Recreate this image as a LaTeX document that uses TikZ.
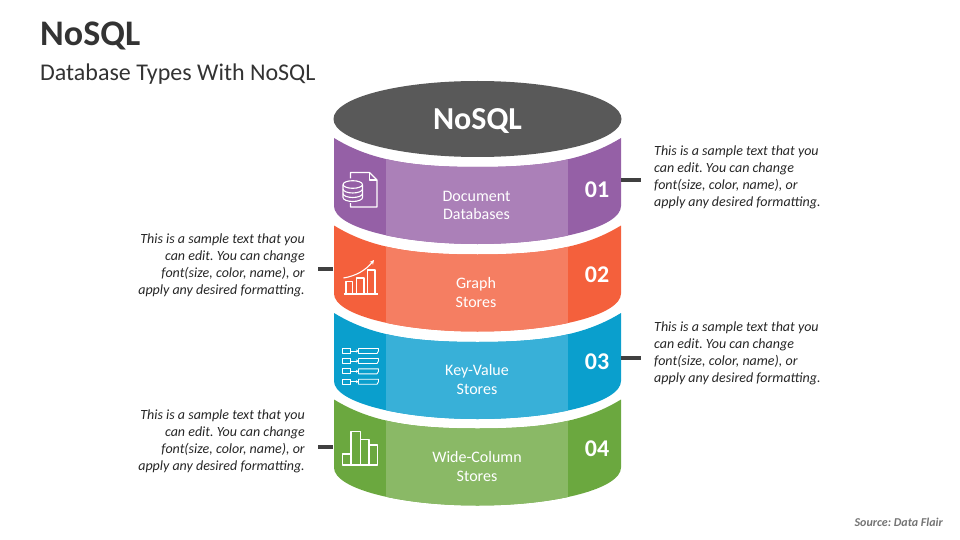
\documentclass[tikz,border=0pt]{standalone}
\usepackage{fontspec}
\setmainfont{Carlito}
\usetikzlibrary{arrows.meta}
\definecolor{capgray}{RGB}{89, 89, 89}
\definecolor{leadgray}{RGB}{64, 64, 64}
\definecolor{purpledark}{RGB}{149, 96, 166}
\definecolor{purplelight}{RGB}{171, 128, 184}
\definecolor{orangedark}{RGB}{244, 96, 60}
\definecolor{orangelight}{RGB}{245, 126, 98}
\definecolor{bluedark}{RGB}{10, 159, 205}
\definecolor{bluelight}{RGB}{56, 176, 216}
\definecolor{greendark}{RGB}{107, 168, 63}
\definecolor{greenlight}{RGB}{138, 185, 102}
\tikzset{
  band label/.style={text=white, align=center, font=\fontsize{16}{18.7}\selectfont},
  band number/.style={text=white, font=\bfseries\fontsize{24}{24}\selectfont},
  note right/.style={anchor=west, align=left, inner sep=0pt, text=black!85, font=\frenchspacing\itshape\fontsize{14}{17}\selectfont},
  note left/.style={anchor=east, align=right, inner sep=0pt, text=black!85, font=\frenchspacing\itshape\fontsize{14}{17}\selectfont},
  lead/.style={draw=leadgray, line width=4.5pt},
  icon/.style={draw=white, line width=1.1pt, line join=round}
}
% one slice of the cylinder: #1 is the offset, #2 and #3 the colours
\newcommand{\bandpath}[1]{(334, 138+#1) -- (334, 206+#1)
  arc[start angle=180, end angle=360, x radius=143.5pt, y radius=38pt]
  -- (621, 138+#1) .. controls (585, 160+#1) and (545, 167+#1) .. (477.5, 167+#1)
  .. controls (410, 167+#1) and (370, 160+#1) .. (334, 138+#1) -- cycle}
\newcommand{\dbband}[3]{
  \fill[#2] \bandpath{#1};
  \begin{scope}
    \clip \bandpath{#1};
    \fill[#3] (386, 130+#1) rectangle (568, 250+#1);
  \end{scope}
}
\begin{document}
\begin{tikzpicture}[x=1pt, y=-1pt]
  \useasboundingbox (0, 0) rectangle (960, 540);

  \node[anchor=west, inner sep=0pt, text=black!80, font=\bfseries\fontsize{36}{36}\selectfont] (title) at (40, 36) {NoSQL};
  \node[anchor=west, inner sep=0pt, text=black!80, font=\fontsize{24}{24}\selectfont] (subtitle) at (40, 74) {Database Types With NoSQL};

  \dbband{0}{purpledark}{purplelight}
  \dbband{87.5}{orangedark}{orangelight}
  \dbband{175}{bluedark}{bluelight}
  \dbband{261.5}{greendark}{greenlight}

  \fill[capgray] (477.5, 119) ellipse [x radius=144pt, y radius=38pt];
  \node[text=white, font=\bfseries\fontsize{32}{32}\selectfont] (cap) at (477.5, 121) {NoSQL};

  \node[band label] (label1) at (476.5, 205.5) {Document\\Databases};
  \node[band label] (label2) at (476, 292.5) {Graph\\Stores};
  \node[band label] (label3) at (477, 379.5) {Key-Value\\Stores};
  \node[band label] (label4) at (477, 466.5) {Wide-Column\\Stores};

  \node[band number] (num1) at (597, 190) {01};
  \node[band number] (num2) at (597, 275) {02};
  \node[band number] (num3) at (597, 362) {03};
  \node[band number] (num4) at (597, 449) {04};

  \node[note right] (note1) at (654, 177) {This is a sample text that you\\can edit. You can change\\font(size, color, name), or\\apply any desired formatting.};
  \node[note left] (note2) at (305, 265) {This is a sample text that you\\can edit. You can change\\font(size, color, name), or\\apply any desired formatting.};
  \node[note right] (note3) at (654, 353) {This is a sample text that you\\can edit. You can change\\font(size, color, name), or\\apply any desired formatting.};
  \node[note left] (note4) at (305, 441) {This is a sample text that you\\can edit. You can change\\font(size, color, name), or\\apply any desired formatting.};

  \coordinate (rim1) at (621, 180);
  \coordinate (tip1) at (641, 180);
  \coordinate (rim2) at (333, 269);
  \coordinate (tip2) at (318, 269);
  \coordinate (rim3) at (621, 358);
  \coordinate (tip3) at (641, 358);
  \coordinate (rim4) at (333, 447);
  \coordinate (tip4) at (318, 447);
  \draw[lead] (rim1) -- (tip1);
  \draw[lead] (rim2) -- (tip2);
  \draw[lead] (rim3) -- (tip3);
  \draw[lead] (rim4) -- (tip4);

  % document icon
  \draw[icon] (350.5, 178.5) -- (350.5, 172.5) -- (369.5, 172.5) -- (377, 180) -- (377, 207) -- (350.5, 207) -- (350.5, 203);
  \draw[icon] (369.5, 172.5) -- (369.5, 180) -- (377, 180);
  \fill[purpledark] (343, 184) rectangle (362.5, 198);
  \draw[icon] (343, 184.5) -- (343, 197.5) arc[start angle=180, end angle=360, x radius=9.75pt, y radius=4pt] -- (362.5, 184.5);
  \draw[icon] (352.75, 184.5) ellipse [x radius=9.75pt, y radius=3.8pt];
  \draw[icon] (343, 189) arc[start angle=180, end angle=360, x radius=9.75pt, y radius=4pt];
  \draw[icon] (343, 193.5) arc[start angle=180, end angle=360, x radius=9.75pt, y radius=4pt];

  % growth icon
  \draw[icon] (343.5, 294) -- (377.5, 294);
  \draw[icon] (346, 294) -- (346, 281.5) -- (352.5, 281.5) -- (352.5, 294);
  \draw[icon] (356.5, 294) -- (356.5, 278) -- (364, 278) -- (364, 294);
  \draw[icon] (367.5, 294) -- (367.5, 270) -- (375, 270) -- (375, 294);
  \draw[icon, -{Stealth[length=4.5pt, width=4.5pt]}] (343.5, 278) .. controls (356, 276) and (366, 270) .. (374, 260);

  % key value icon
  \foreach \rowy in {351, 361, 371.3, 381.7} {
    \draw[icon, line width=0.9pt] (342.5, \rowy-2.5) rectangle (350, \rowy+2.5);
    \draw[icon, line width=0.9pt, -{Stealth[length=2.5pt, width=3pt]}] (350, \rowy) -- (358.5, \rowy);
    \draw[icon, line width=0.9pt] (358.5, \rowy-2.5) -- (378.5, \rowy-2.5) -- (378.5, \rowy) -- (377, \rowy+2.5) -- (358.5, \rowy+2.5) -- cycle;
  }

  % column icon
  \draw[icon, line width=1.4pt] (342.5, 465) rectangle (351, 454);
  \draw[icon, line width=1.4pt] (351, 465) rectangle (360.5, 431.5);
  \draw[icon, line width=1.4pt] (360.5, 465) rectangle (369, 439.5);
  \draw[icon, line width=1.4pt] (369, 465) rectangle (377.5, 445);

  \node[anchor=east, inner sep=0pt, text=black!55, font=\frenchspacing\bfseries\itshape\fontsize{12}{14}\selectfont] (source) at (943, 522.5) {Source: Data Flair};
\end{tikzpicture}
\end{document}
